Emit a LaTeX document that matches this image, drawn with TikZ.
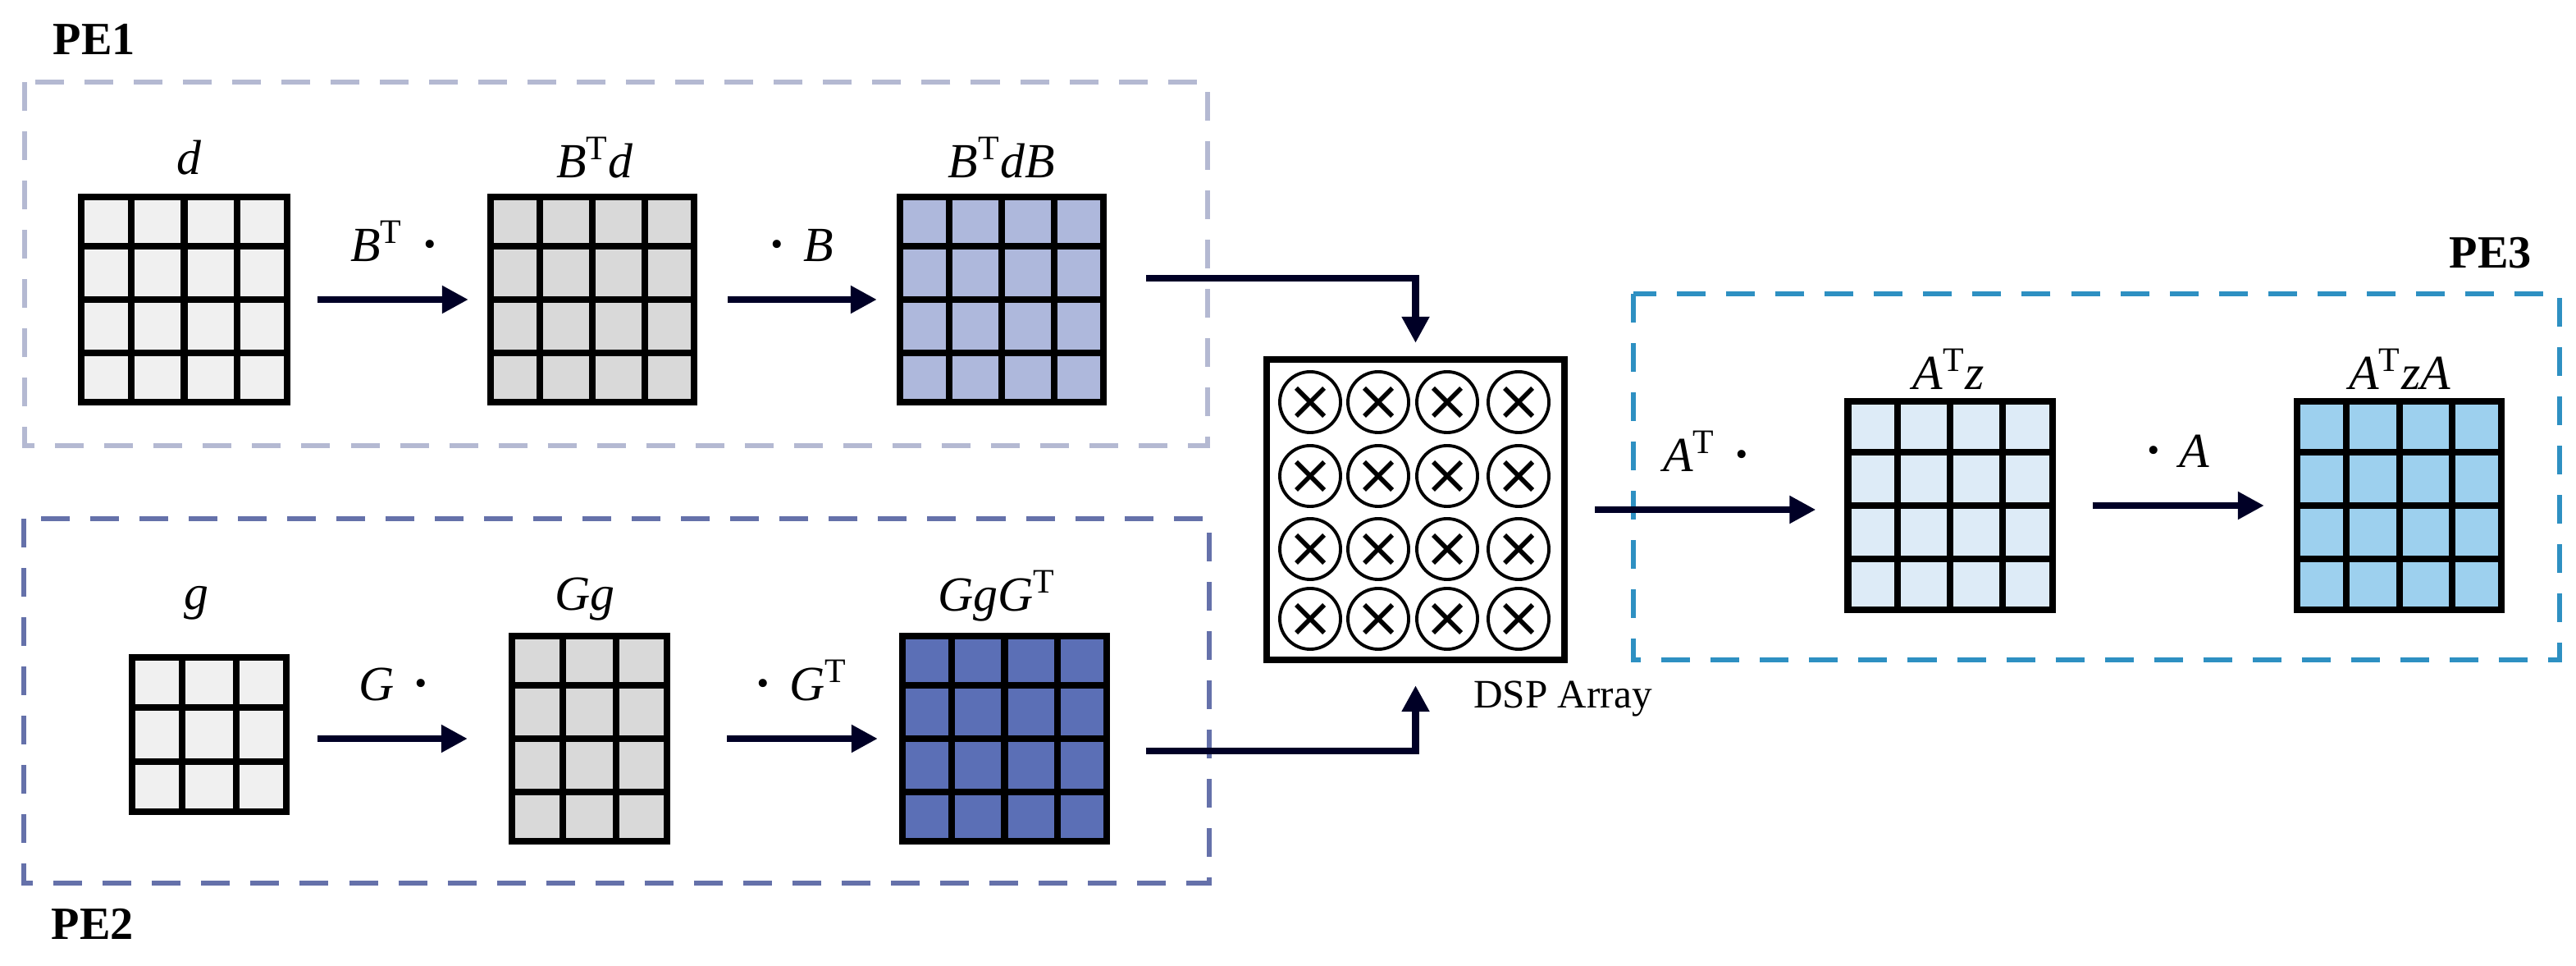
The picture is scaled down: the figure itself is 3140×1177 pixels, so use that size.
\documentclass[tikz,border=0pt]{standalone}
\usepackage{fontspec}
\setmainfont{Liberation Serif}
\usetikzlibrary{arrows.meta,calc}
\definecolor{pea}{HTML}{B4B9D2}
\definecolor{peb}{HTML}{6571AA}
\definecolor{pec}{HTML}{2E90C2}
\definecolor{fl}{HTML}{F0F0F0}
\definecolor{fg}{HTML}{D9D9D9}
\definecolor{fb1}{HTML}{AEB8DC}
\definecolor{fb2}{HTML}{5B6FB6}
\definecolor{fc1}{HTML}{DDEBF7}
\definecolor{fc2}{HTML}{9DD0EE}
\newcommand\mgrid[3]{%
  \foreach \k in {1,...,#2}{\ifnum\k<#2 \draw[gl] ($(#1.north west)!{\k/#2}!(#1.north east)$) -- ($(#1.south west)!{\k/#2}!(#1.south east)$);\fi}%
  \foreach \k in {1,...,#3}{\ifnum\k<#3 \draw[gl] ($(#1.north west)!{\k/#3}!(#1.south west)$) -- ($(#1.north east)!{\k/#3}!(#1.south east)$);\fi}%
}
\newcommand\bdot{\raisebox{0.25ex}{\scalebox{0.7}{\textbullet}}}
\begin{document}
\begin{tikzpicture}[x=0.01cm,y=-0.01cm,
  mat/.style={draw,line width=2.3pt,inner sep=0pt},
  gl/.style={line width=2.3pt},
  pe/.style={dash pattern=on 0.35cm off 0.25cm,line width=1.7pt},
  arr/.style={line width=2.4pt,draw={black!85!blue},-{Triangle[length=0.32cm,width=0.32cm]}},
  lab/.style={font=\fontsize{17}{17}\selectfont\itshape,inner sep=0pt},
  pel/.style={font=\fontsize{16}{16}\selectfont\bfseries,inner sep=0pt,anchor=west},
  mult/.style={draw,circle,line width=1.1pt,minimum size=0.74cm,inner sep=0pt,
    path picture={\draw[line width=1.6pt] ([shift={(-0.17cm,-0.17cm)}]path picture bounding box.center) -- ([shift={(0.17cm,0.17cm)}]path picture bounding box.center);
    \draw[line width=1.6pt] ([shift={(-0.17cm,0.17cm)}]path picture bounding box.center) -- ([shift={(0.17cm,-0.17cm)}]path picture bounding box.center);}}]
\useasboundingbox (0,0) rectangle (3140,1177);
% PE boxes
\draw[pe,pea] (30,100) rectangle (1472,543);
\draw[pe,peb] (29,632) rectangle (1474,1076);
\draw[pe,pec] (1991,358) rectangle (3120,804);
\node[pel] (pe1) at (64,48) {PE1};
\node[pel] (pe2) at (62,1126) {PE2};
\node[pel] (pe3) at (2985,308) {PE3};
% PE1 matrices
\node[mat,fill=fl,minimum width=2.51cm,minimum height=2.5cm] (d) at (224.5,365) {};
\node[mat,fill=fg,minimum width=2.48cm,minimum height=2.5cm] (btd) at (722,365) {};
\node[mat,fill=fb1,minimum width=2.48cm,minimum height=2.5cm] (btdb) at (1221,365) {};
\mgrid{d}{4}{4}\mgrid{btd}{4}{4}\mgrid{btdb}{4}{4}
\node[lab] (ld) at (230,192) {d};
\node[lab] (lbtd) at (725,192) {B\textsuperscript{\upshape T}d};
\node[lab] (lbtdb) at (1221,192) {B\textsuperscript{\upshape T}dB};
% PE2 matrices
\node[mat,fill=fl,minimum width=1.88cm,minimum height=1.88cm] (g) at (255,895) {};
\node[mat,fill=fg,minimum width=1.89cm,minimum height=2.5cm] (gg) at (718.5,900) {};
\node[mat,fill=fb2,minimum width=2.49cm,minimum height=2.5cm] (ggt) at (1224.5,900) {};
\mgrid{g}{3}{3}\mgrid{gg}{3}{4}\mgrid{ggt}{4}{4}
\node[lab] (lg) at (239,735) {g};
\node[lab] (lgg) at (713,730) {Gg};
\node[lab] (lggt) at (1215,726) {GgG\textsuperscript{\upshape T}};
% PE3 matrices
\node[mat,fill=fc1,minimum width=2.49cm,minimum height=2.53cm] (atz) at (2377,616) {};
\node[mat,fill=fc2,minimum width=2.49cm,minimum height=2.53cm] (atza) at (2924.5,616) {};
\mgrid{atz}{4}{4}\mgrid{atza}{4}{4}
\node[lab] (latz) at (2375,450) {A\textsuperscript{\upshape T}z};
\node[lab] (latza) at (2925,450) {A\textsuperscript{\upshape T}zA};
% DSP array
\node[mat,fill=white,minimum width=3.63cm,minimum height=3.66cm] (dsp) at (1725.5,621) {};
\foreach \r/\yy in {1/490,2/580,3/669,4/754}
  \foreach \c/\xx in {1/1597,2/1680,3/1764,4/1851}
    \node[mult] (m\r\c) at (\xx,\yy) {};
\node[font=\fontsize{14}{14}\selectfont,inner sep=0pt] (dspl) at (1905,852) {DSP Array};
% arrows PE1
\draw[arr] ([xshift=0.33cm]d.east) -- node[lab,above=0.42cm] (a1) {B\textsuperscript{\upshape T}\, \bdot} ([xshift=-0.23cm]btd.west);
\draw[arr] ([xshift=0.37cm]btd.east) -- node[lab,above=0.42cm] (a2) {\bdot\, B} ([xshift=-0.24cm]btdb.west);
% arrows PE2
\draw[arr] ($(g.east|-gg.west)+(0.34cm,0)$) -- node[lab,above=0.42cm] (a3) {G\, \bdot} ([xshift=-0.5cm]gg.west);
\draw[arr] ([xshift=0.69cm]gg.east) -- node[lab,above=0.42cm] (a4) {\bdot\, G\textsuperscript{\upshape T}} ([xshift=-0.26cm]ggt.west);
% to DSP
\coordinate (tc) at (1397,339);
\coordinate (bc) at (1397,915);
\draw[arr] (tc) -| ([yshift=0.16cm]dsp.north);
\draw[arr] (bc) -| ([yshift=-0.27cm]dsp.south);
% PE3 arrows
\draw[arr] ([xshift=0.33cm]dsp.east) -- node[lab,above=0.42cm] (a5) {A\textsuperscript{\upshape T}\, \bdot} ([xshift=-0.35cm]dsp.east -| atz.west);
\draw[arr] ([xshift=0.45cm]atz.east) -- node[lab,above=0.42cm] (a6) {\bdot\, A} ([xshift=-0.36cm]atza.west);
\end{tikzpicture}
\end{document}
